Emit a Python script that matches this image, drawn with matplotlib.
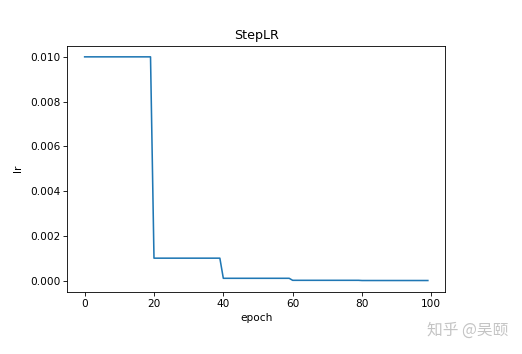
import matplotlib
matplotlib.use("Agg")
import matplotlib.pyplot as plt

# StepLR schedule: lr=0.01, step_size=20, gamma=0.1
epochs = list(range(100))
lr_levels = [0.01, 0.001, 0.0001, 0.00001, 0.000001]
lr = [lr_levels[e // 20] for e in epochs]

# the reference looks like a default notebook figure at ~75.6 dpi
dpi = 75.6
fig = plt.figure(figsize=(522 / dpi, 354 / dpi), dpi=dpi)
ax = fig.add_axes([0.1293, 0.176, 0.7232, 0.695])
ax.plot(epochs, lr)
ax.set_title("StepLR")
ax.set_xlabel("epoch")
ax.set_ylabel("lr", labelpad=6)

fig.text(0.973, 0.068, "知乎 @吴颐", ha="right", va="center", fontsize=15,
         color="#c4c4c4", family=["Noto Sans CJK SC", "DejaVu Sans"])

fig.savefig("out.png", dpi=dpi)
